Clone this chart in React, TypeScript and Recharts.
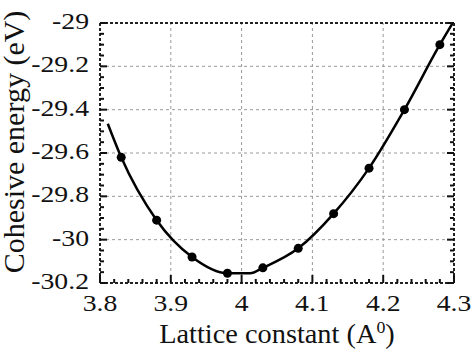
import { ComposedChart, Line, Scatter, XAxis, YAxis, ReferenceLine, Label } from 'recharts'

// computed points (markers)
const latticeX = [3.83, 3.88, 3.93, 3.98, 4.03, 4.08, 4.13, 4.18, 4.23, 4.28]
const energyY = [-29.62, -29.91, -30.08, -30.155, -30.13, -30.04, -29.88, -29.67, -29.4, -29.1]

// fitted curve
const fitX = [3.811, 3.83, 3.88, 3.93, 3.98, 4.012, 4.03, 4.08, 4.13, 4.18, 4.23, 4.28, 4.3]
const fitY = [-29.465, -29.62, -29.91, -30.08, -30.155, -30.155, -30.13, -30.04, -29.88, -29.67, -29.4, -29.1, -28.99]

const xMajor = [3.8, 3.9, 4, 4.1, 4.2, 4.3]
const yMajor = [-30.2, -30, -29.8, -29.6, -29.4, -29.2, -29]

const xTicks = Array.from({ length: 26 }, (_, i) => +(3.8 + i * 0.02).toFixed(2))
const yTicks = Array.from({ length: 25 }, (_, i) => +(-30.2 + i * 0.05).toFixed(2))

const points = latticeX.map((x, i) => ({ x, y: energyY[i] }))
const fit = fitX.map((x, i) => ({ x, y: fitY[i] }))

const isMajor = (v: number, majors: number[]) => majors.some((m) => Math.abs(m - v) < 1e-6)

const FONT = 'Liberation Serif'
const frame = { stroke: '#222', strokeWidth: 2, strokeDasharray: '3 2' }
const tickStroke = '#111'

// force the serif face on every chart text
const css = `#root svg text, #root svg tspan { font-family: 'Liberation Serif', serif !important; }`

function BottomTick(props: any) {
  const { x, y, payload } = props
  const major = isMajor(payload.value, xMajor)
  return (
    <g>
      <line x1={x} x2={x} y1={y} y2={y - (major ? 8 : 4)} stroke={tickStroke} strokeWidth={2} />
      {major && (
        <text
          x={0}
          y={0}
          transform={`translate(${x},${y + 28}) scale(1.18,1)`}
          textAnchor="middle"
          fontFamily={FONT}
          fontSize={23.5}
          fill="#111"
        >
          {String(payload.value)}
        </text>
      )}
    </g>
  )
}

function TopTick(props: any) {
  const { x, y, payload } = props
  const major = isMajor(payload.value, xMajor)
  return <line x1={x} x2={x} y1={y} y2={y + (major ? 8 : 4)} stroke={tickStroke} strokeWidth={2} />
}

function LeftTick(props: any) {
  const { x, y, payload } = props
  const major = isMajor(payload.value, yMajor)
  return (
    <g>
      <line x1={x} x2={x + (major ? 7 : 4)} y1={y} y2={y} stroke={tickStroke} strokeWidth={2} />
      {major && (
        <text
          x={0}
          y={0}
          transform={`translate(${x - 11},${y + 6}) scale(1.18,1)`}
          textAnchor="end"
          fontFamily={FONT}
          fontSize={23.5}
          fill="#111"
        >
          {String(payload.value)}
        </text>
      )}
    </g>
  )
}

function RightTick(props: any) {
  const { x, y, payload } = props
  const major = isMajor(payload.value, yMajor)
  return <line x1={x} x2={x - (major ? 7 : 4)} y1={y} y2={y} stroke={tickStroke} strokeWidth={2} />
}

export default function App() {
  return (
    <div style={{ position: 'absolute', left: 0, top: 0, background: '#fff', fontFamily: FONT }}>
      <style>{css}</style>
      <ComposedChart width={474} height={351} margin={{ top: 22, right: 19, bottom: 0, left: 0 }}>
        <XAxis
          xAxisId="b"
          dataKey="x"
          type="number"
          domain={[3.8, 4.3]}
          ticks={xTicks}
          interval={0}
          allowDataOverflow
          height={68}
          tickSize={0}
          tickMargin={0}
          tickLine={false}
          axisLine={frame}
          tick={(p: any) => <BottomTick {...p} />}
        >
          <Label
            content={(p: any) => {
              const vb = p.viewBox
              return (
                <text
                  x={0}
                  y={0}
                  transform={`translate(${vb.x + vb.width / 2},${vb.y + 60}) scale(1.05,1)`}
                  textAnchor="middle"
                  fontFamily={FONT}
                  fontSize={27}
                  fill="#111"
                >
                  Lattice constant (A
                  <tspan dy={-10} fontSize={17}>0</tspan>
                  <tspan dy={10}>)</tspan>
                </text>
              )
            }}
          />
        </XAxis>
        <XAxis
          xAxisId="t"
          orientation="top"
          type="number"
          domain={[3.8, 4.3]}
          ticks={xTicks}
          interval={0}
          allowDataOverflow
          height={1}
          tickSize={0}
          tickMargin={0}
          tickLine={false}
          axisLine={frame}
          tick={(p: any) => <TopTick {...p} />}
        />
        <YAxis
          yAxisId="l"
          dataKey="y"
          type="number"
          domain={[-30.2, -29]}
          ticks={yTicks}
          interval={0}
          allowDataOverflow
          width={100}
          tickSize={0}
          tickMargin={0}
          tickLine={false}
          axisLine={frame}
          tick={(p: any) => <LeftTick {...p} />}
        >
          <Label
            content={(p: any) => {
              const vb = p.viewBox
              return (
                <text
                  x={0}
                  y={0}
                  transform={`translate(${vb.x + 24},${vb.y + vb.height / 2 - 11}) rotate(-90)`}
                  textAnchor="middle"
                  fontFamily={FONT}
                  fontSize={30}
                  fill="#111"
                >
                  Cohesive energy (eV)
                </text>
              )
            }}
          />
        </YAxis>
        <YAxis
          yAxisId="r"
          orientation="right"
          type="number"
          domain={[-30.2, -29]}
          ticks={yTicks}
          interval={0}
          allowDataOverflow
          width={1}
          tickSize={0}
          tickMargin={0}
          tickLine={false}
          axisLine={frame}
          tick={(p: any) => <RightTick {...p} />}
        />

        {xMajor.slice(1, -1).map((v) => (
          <ReferenceLine key={`gx-${v}`} xAxisId="b" yAxisId="l" x={v} stroke="#999" strokeDasharray="3 3" />
        ))}
        {yMajor.slice(1, -1).map((v) => (
          <ReferenceLine key={`gy-${v}`} xAxisId="b" yAxisId="l" y={v} stroke="#999" strokeDasharray="3 3" />
        ))}

        <Line
          xAxisId="b"
          yAxisId="l"
          data={fit}
          dataKey="y"
          type="monotone"
          stroke="#000"
          strokeWidth={2.5}
          dot={false}
          activeDot={false}
          isAnimationActive={false}
        />
        <Scatter
          xAxisId="b"
          yAxisId="l"
          data={points}
          dataKey="y"
          fill="#000"
          isAnimationActive={false}
          shape={(p: any) => <circle cx={p.cx} cy={p.cy} r={4.5} fill="#000" />}
        />
      </ComposedChart>
    </div>
  )
}
